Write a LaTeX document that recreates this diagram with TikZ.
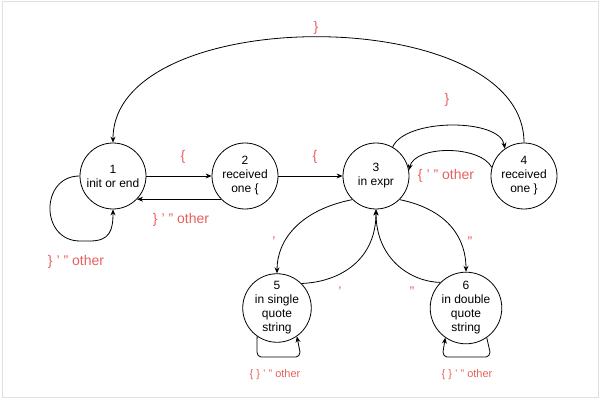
\documentclass[tikz,border=0pt]{standalone}
\usepackage{fontspec}
\setmainfont{Liberation Sans}
\usetikzlibrary{arrows.meta}
\definecolor{lbl}{HTML}{E8605E}
\begin{document}
\begin{tikzpicture}[x=1pt,y=-1pt,
  st/.style={circle,draw,line width=0.8pt,minimum size=66pt,inner sep=0pt,align=center,font=\fontsize{12}{14}\selectfont},
  ar/.style={-{Stealth[length=6pt,width=5pt]},line width=0.8pt},
  lb/.style={text=lbl,font=\fontsize{14}{16}\selectfont},
  sl/.style={text=lbl,font=\fontsize{11}{13}\selectfont}]
\useasboundingbox (0,0) rectangle (600,401);
\draw[black!12,line width=1pt] (2,2) rectangle (598,397);
\node[st] (n1) at (113,176) {1\\init or end};
\node[st] (n2) at (245,176) {2\\received\\one \{};
\node[st] (n3) at (376,176) {3\\in expr};
\node[st] (n4) at (524,176) {4\\received\\one \}};
\node[st] (n5) at (277,308) {5\\in single\\quote\\string};
\node[st] (n6) at (466,308) {6\\in double\\quote\\string};
\draw[ar] (n4.north) .. controls (524,2) and (113,2) .. (n1.north);
\node[lb] (l1) at (316,28) {\}};
\node[lb] (l2) at (447,100) {\}};
\draw[ar] (n3.60) .. controls (405,118) and (500,118) .. (n4.125);
\draw[ar] (n4.165) .. controls (480,145) and (415,145) .. (n3.10);
\node[lb] (l3) at (446,176) {\{ ' " other};
\draw[ar] (n1.east) -- (n2.west);
\draw[ar] (n2.224) -- (n1.316);
\node[lb] (l4) at (183,157) {\{};
\node[lb] (l5) at (181,220) {\} ' " other};
\draw[ar] (n2.east) -- (n3.west);
\node[lb] (l6) at (315,157) {\{};
\draw[ar] (n1.west) .. controls (40,176) and (40,241) .. (80,241) -- (90,241) .. controls (110,241) and (113,230) .. (n1.south);
\node[lb] (l7) at (76,262) {\} ' " other};
\draw[ar] (n3.225) .. controls (300,210) and (277,240) .. (n5.north);
\draw[ar] (n5.45) .. controls (340,282) and (376,260) .. (n3.south);
\draw[ar] (n6.135) .. controls (412,282) and (376,260) .. (n3.south);
\draw[ar] (n3.315) .. controls (450,210) and (466,240) .. (n6.north);
\node[lb] (l8) at (274,242) {'};
\node[lb] (l9) at (340,292) {'};
\node[lb] (l10) at (412,292) {"};
\node[lb] (l11) at (470,242) {"};
\draw[ar] (n5.235) -- (257,352) to[out=-90,in=180] (261,357) -- (296,357) to[out=0,in=-90] (300,352) -- (n5.305);
\draw[ar] (n6.305) -- (490,352) to[out=-90,in=0] (486,357) -- (447,357) to[out=180,in=-90] (443,352) -- (n6.235);
\node[sl] (l12) at (275,375) {\{ \} ' " other};
\node[sl] (l13) at (467,375) {\{ \} ' " other};
\end{tikzpicture}
\end{document}
